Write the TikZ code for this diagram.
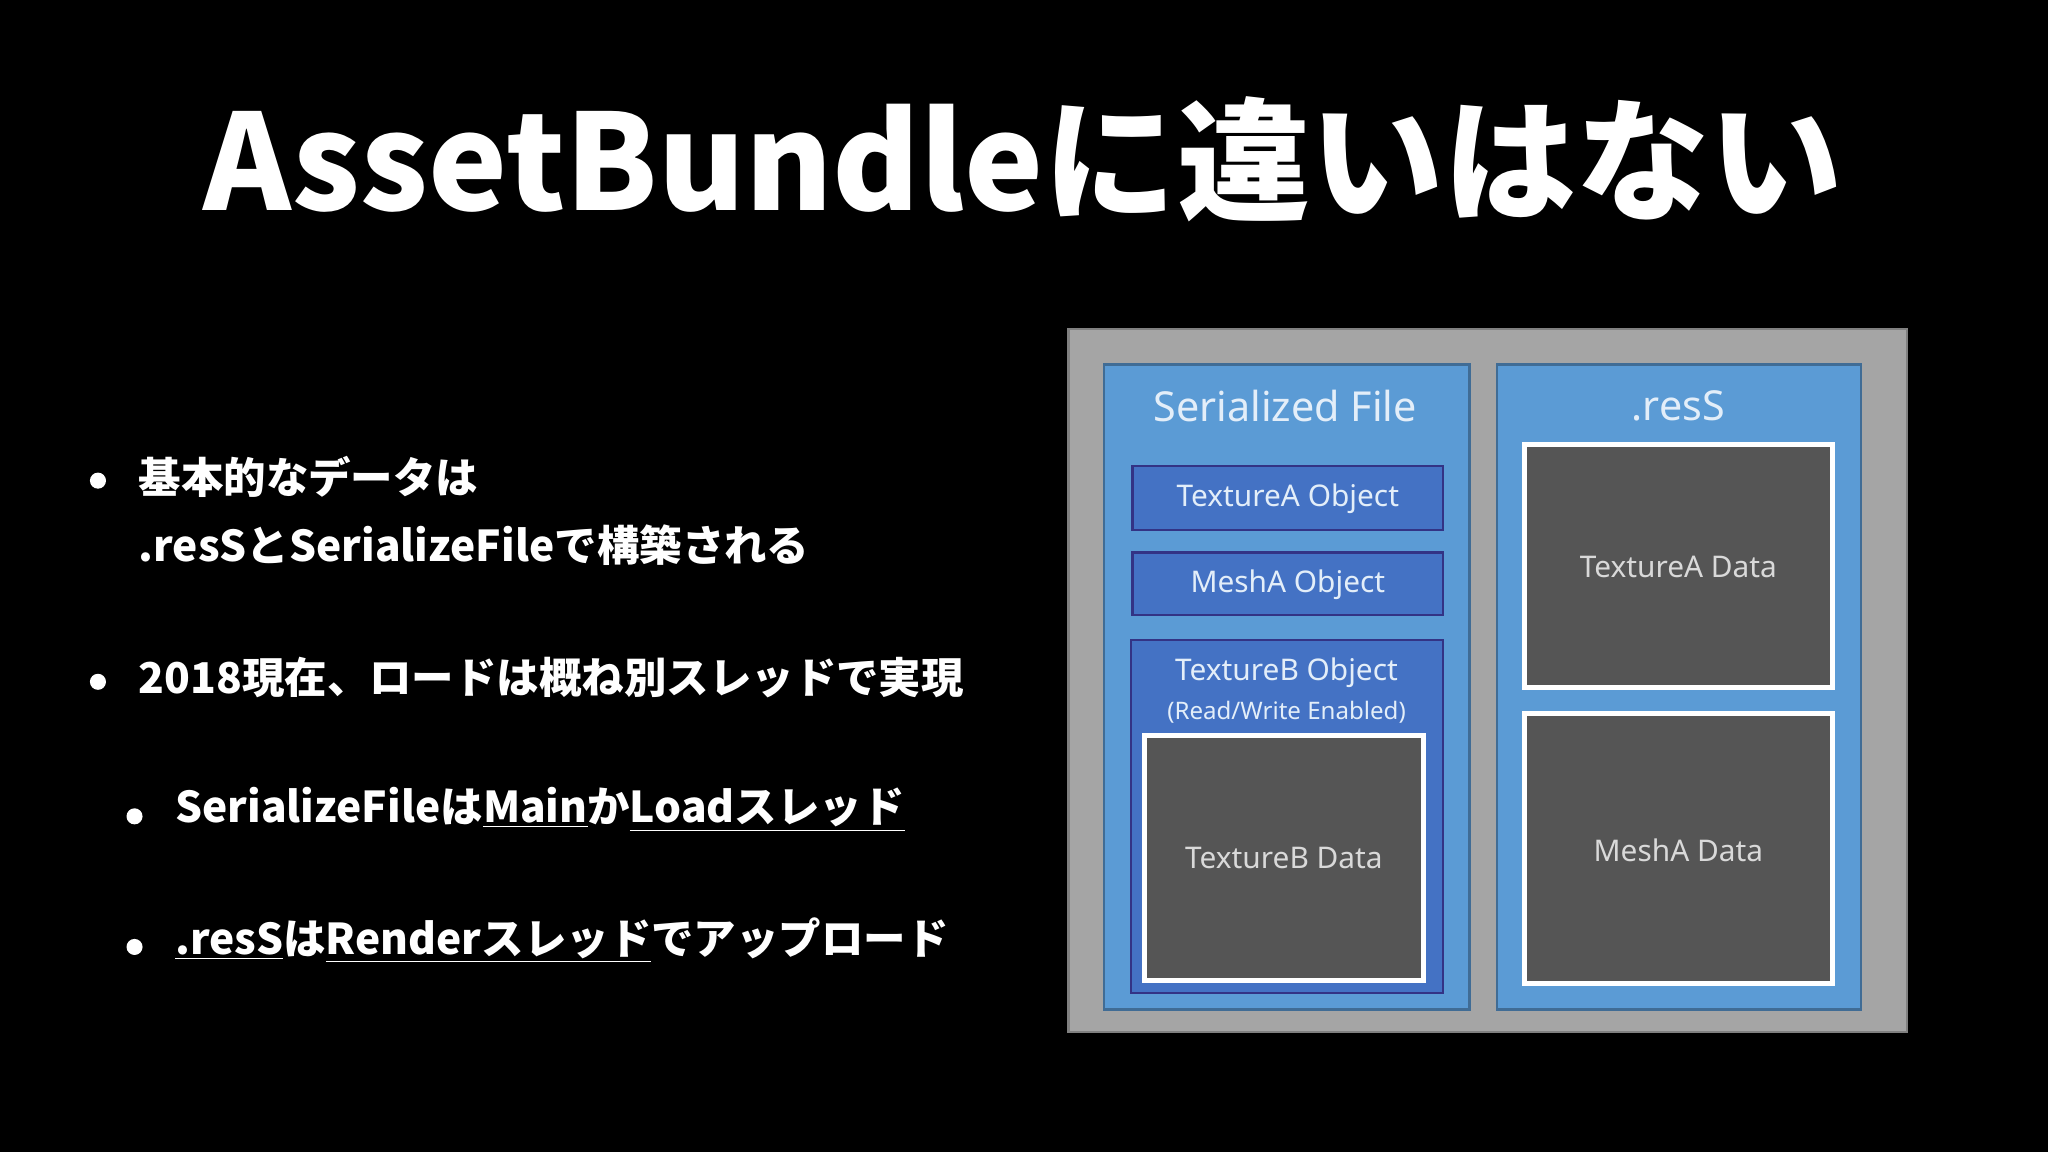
\documentclass[tikz,border=0pt]{standalone}
\usepackage{fontspec}
\setmainfont{Noto Sans}
\newfontfamily\cjk{Noto Sans CJK JP}
\newfontfamily\cjkb{Noto Sans CJK JP}[BoldFont=*]
\begin{document}
\begin{tikzpicture}[x=0.02cm,y=-0.02cm,
  panel/.style={draw=#1!70!black,line width=1pt,fill=#1},
  objbox/.style={draw=blue!40!black!80,line width=1pt,fill=objblue},
  databox/.style={draw=white,line width=2.2pt,fill=datagray},
  lbl/.style={text=lighttxt,font=\fontsize{13}{15}\selectfont},
  dlbl/.style={text=graytxt,font=\fontsize{13}{15}\selectfont},
  bul/.style={anchor=west,text=white,font=\cjk\bfseries\fontsize{18.5}{22}\selectfont},
  dot/.style={circle,fill=white,inner sep=0pt,minimum size=7pt}]
\definecolor{outergray}{HTML}{A5A5A5}
\definecolor{panelblue}{HTML}{5B9BD5}
\definecolor{objblue}{HTML}{4472C4}
\definecolor{datagray}{HTML}{555555}
\definecolor{lighttxt}{HTML}{E3EEF9}
\definecolor{graytxt}{HTML}{D9D9D9}
\fill[black] (0,0) rectangle (1568,882);
\useasboundingbox (0,0) rectangle (1568,882);
\node[text=white,font=\cjk\bfseries\fontsize{58}{64}\selectfont] (title) at (783,122) {AssetBundleに違いはない};
% bullets
\node[dot] (d1) at (75,368) {};
\node[bul] (b1) at (100,365) {基本的なデータは};
\node[bul] (b1b) at (100,417) {.resSとSerializeFileで構築される};
\node[dot] (d2) at (75,522) {};
\node[bul] (b2) at (100,519) {2018現在、ロードは概ね別スレッドで実現};
\node[dot] (d3) at (103,625) {};
\node[bul] (b3) at (128,620) {SerializeFileは\underline{Main}か\underline{Loadスレッド}};
\node[dot] (d4) at (103,725) {};
\node[bul] (b4) at (128,720) {\underline{.resS}は\underline{Renderスレッド}でアップロード};
% diagram
\draw[draw=gray,line width=1pt,fill=outergray] (818,252) rectangle (1460,790);
\draw[panel=panelblue] (845,279) rectangle (1125,773);
\draw[panel=panelblue] (1146,279) rectangle (1425,773);
\node[lbl,font=\fontsize{18}{20}\selectfont] (t1) at (984,311) {Serialized File};
\node[lbl,font=\fontsize{18}{20}\selectfont] (t2) at (1285,311) {.resS};
\draw[objbox] (867,357) rectangle (1105,406);
\node[lbl] (ta) at (986,382) {TextureA Object};
\draw[objbox] (867,423) rectangle (1105,471);
\node[lbl] (ma) at (986,448) {MeshA Object};
\draw[objbox] (866,490) rectangle (1105,760);
\node[lbl] (tb) at (985,515) {TextureB Object};
\node[lbl,font=\fontsize{10.5}{12}\selectfont] (rw) at (985,545) {(Read/Write Enabled)};
\draw[databox] (876,563) rectangle (1090,751);
\node[dlbl] (tbd) at (983,657) {TextureB Data};
\draw[databox] (1167,340) rectangle (1403,526);
\node[dlbl] (tad) at (1285,434) {TextureA Data};
\draw[databox] (1167,546) rectangle (1403,753);
\node[dlbl] (mad) at (1285,651) {MeshA Data};
\end{tikzpicture}
\end{document}
